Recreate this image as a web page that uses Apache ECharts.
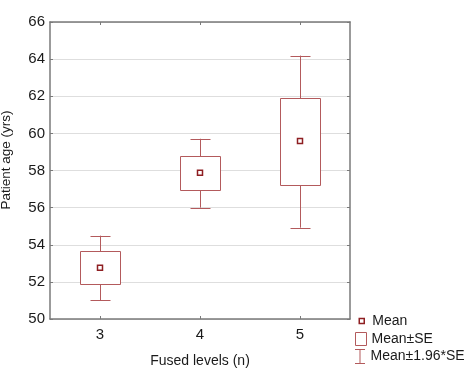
<!DOCTYPE html>
<html>
<head>
<meta charset="utf-8">
<script src="https://cdn.jsdelivr.net/npm/echarts@6/dist/echarts.min.js"></script>
<style>html,body{margin:0;padding:0;background:#fff;}#c{width:474px;height:374px;}</style>
</head>
<body>
<div id="c"></div>
<script>
const categories = ['3', '4', '5'];
const means = [52.76, 57.88, 59.59];
const seLow = [51.90, 56.93, 57.22];
const seHigh = [53.65, 58.80, 61.89];
const ciLow = [51.02, 56.00, 54.92];
const ciHigh = [54.49, 59.71, 64.19];
const yTicks = [50, 52, 54, 56, 58, 60, 62, 64, 66];

const RED = '#b35a5c';
const DARK = '#8e1f22';
const AXIS = '#7a7a7a';
const FONT = 'Liberation Sans, Arial, sans-serif';

const chart = echarts.init(document.getElementById('c'), null, {renderer: 'canvas'});

const whiskerData = categories.map((c, i) => [i, ciLow[i], ciHigh[i]]);
const boxData = categories.map((c, i) => [i, seLow[i], seHigh[i]]);
const meanData = categories.map((c, i) => [i, means[i]]);

const option = {
  animation: false,
  grid: {left: 50, top: 22, right: 124, bottom: 55, containLabel: false, outerBoundsMode: 'none'},
  xAxis: [{
    type: 'category', data: categories, boundaryGap: true, position: 'bottom',
    axisLine: {show: true, lineStyle: {color: AXIS, width: 1.5}},
    axisTick: {show: true, inside: true, alignWithLabel: true, length: 3, lineStyle: {color: AXIS}},
    axisLabel: {fontSize: 15, color: '#1a1a1a', fontFamily: FONT, margin: 8},
    name: 'Fused levels (n)', nameLocation: 'middle', nameGap: 35,
    nameTextStyle: {fontSize: 14, color: '#1a1a1a', fontFamily: FONT},
    splitLine: {show: false}
  }, {
    type: 'category', data: categories, boundaryGap: true, position: 'top',
    axisLine: {show: true, lineStyle: {color: AXIS, width: 1.5}},
    axisTick: {show: true, inside: true, alignWithLabel: true, length: 3, lineStyle: {color: AXIS}},
    axisLabel: {show: false}, splitLine: {show: false}
  }],
  yAxis: [{
    type: 'value', min: yTicks[0], max: yTicks[yTicks.length - 1], interval: 2, position: 'left',
    axisLine: {show: true, lineStyle: {color: AXIS, width: 1.5}},
    axisTick: {show: true, inside: true, length: 3, lineStyle: {color: AXIS}},
    axisLabel: {fontSize: 15, color: '#1a1a1a', fontFamily: FONT, margin: 5},
    splitLine: {show: true, lineStyle: {color: '#dedede', width: 1}},
    name: 'Patient age (yrs)', nameLocation: 'middle', nameGap: 37, nameRotate: 90,
    nameTextStyle: {fontSize: 13.5, color: '#1a1a1a', fontFamily: FONT, padding: [0, 0, 0, 21]}
  }, {
    type: 'value', min: yTicks[0], max: yTicks[yTicks.length - 1], interval: 2, position: 'right',
    axisLine: {show: true, lineStyle: {color: AXIS, width: 1.5}},
    axisTick: {show: true, inside: true, length: 3, lineStyle: {color: AXIS}},
    axisLabel: {show: false}, splitLine: {show: false}
  }],
  legend: [{
    left: 358.5, top: 314, padding: 0, orient: 'vertical', selectedMode: false,
    itemWidth: 5, itemHeight: 5,
    textStyle: {fontSize: 14, color: '#1a1a1a', fontFamily: FONT, padding: [0, 0, 0, 3]},
    data: [{name: 'Mean', icon: 'rect', itemStyle: {color: '#fff', borderColor: DARK, borderWidth: 1.5}}]
  }, {
    left: 355, top: 332, padding: 0, orient: 'vertical', selectedMode: false,
    itemWidth: 11, itemHeight: 13,
    textStyle: {fontSize: 14, color: '#1a1a1a', fontFamily: FONT},
    data: [{name: 'Mean±SE', icon: 'rect', itemStyle: {color: '#fff', borderColor: RED, borderWidth: 1}}]
  }, {
    left: 355, top: 349, padding: 0, orient: 'vertical', selectedMode: false,
    itemWidth: 11, itemHeight: 15,
    textStyle: {fontSize: 14, color: '#1a1a1a', fontFamily: FONT, padding: [2, 0, 0, 0]},
    data: [{name: 'Mean±1.96*SE', icon: 'path://M0,0h10v1h-4.5v13h4.5v1h-10v-1h4.5v-13h-4.5z', itemStyle: {color: RED, borderWidth: 0}}]
  }],
  series: [{
    name: 'Mean±1.96*SE', type: 'custom', xAxisIndex: 0, yAxisIndex: 0,
    data: whiskerData, itemStyle: {color: RED},
    renderItem: function (params, api) {
      const lo = api.coord([api.value(0), api.value(1)]);
      const hi = api.coord([api.value(0), api.value(2)]);
      const x = Math.round(lo[0]) + 0.5;
      const hw = 10;
      const st = {stroke: RED, lineWidth: 1, fill: 'none'};
      return {type: 'group', children: [
        {type: 'line', shape: {x1: x, y1: lo[1], x2: x, y2: hi[1]}, style: st},
        {type: 'line', shape: {x1: x - hw, y1: Math.round(lo[1]) + 0.5, x2: x + hw, y2: Math.round(lo[1]) + 0.5}, style: st},
        {type: 'line', shape: {x1: x - hw, y1: Math.round(hi[1]) + 0.5, x2: x + hw, y2: Math.round(hi[1]) + 0.5}, style: st}
      ]};
    },
    z: 2
  }, {
    name: 'Mean±SE', type: 'custom', xAxisIndex: 0, yAxisIndex: 0,
    data: boxData, itemStyle: {color: RED},
    renderItem: function (params, api) {
      const lo = api.coord([api.value(0), api.value(1)]);
      const hi = api.coord([api.value(0), api.value(2)]);
      const x = Math.round(lo[0]) + 0.5;
      const hw = 20;
      const y1 = Math.round(hi[1]) + 0.5, y2 = Math.round(lo[1]) + 0.5;
      return {type: 'rect', shape: {x: x - hw, y: y1, width: 2 * hw, height: y2 - y1},
        style: {fill: '#fff', stroke: RED, lineWidth: 1}};
    },
    z: 3
  }, {
    name: 'Mean', type: 'scatter', xAxisIndex: 0, yAxisIndex: 0,
    data: meanData, symbol: 'rect', symbolSize: 5,
    itemStyle: {color: '#fff', borderColor: DARK, borderWidth: 1.5, opacity: 1},
    z: 4
  }]
};
chart.setOption(option);
</script>
</body>
</html>
